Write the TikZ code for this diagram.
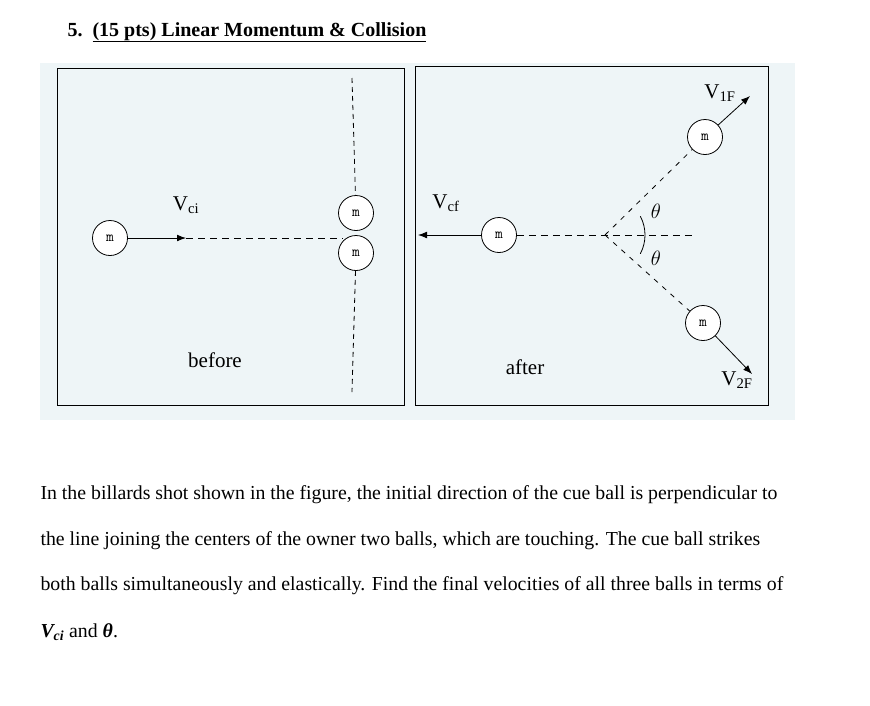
\documentclass[tikz,border=0pt]{standalone}
\usepackage{fontspec}
\setmainfont{Liberation Serif}
\usetikzlibrary{arrows.meta}
\definecolor{paper}{RGB}{238,245,247}
\tikzset{
  ball/.style = {shape = circle, minimum size = 35pt, inner sep = 0pt, draw, thick, fill = white, font = \fontsize{15}{15}\selectfont\ttfamily},
  frame/.style = {draw, thick},
  guide/.style = {dashed, thick, dash pattern = on 7pt off 5pt},
  vel/.style = {thick, -{Latex[length=9pt]}},
  lbl/.style = {font = \fontsize{21}{21}\selectfont},
  body/.style = {anchor = base west, font = \fontsize{19.8}{20}\selectfont}
}
\begin{document}
\begin{tikzpicture}[x = 1pt, y = -1pt]
\useasboundingbox (0,0) rectangle (870,705);
% title
\node[anchor = base west, font = \fontsize{20}{20}\selectfont\bfseries] (title) at (64,36)
  {5.\ \ \underline{(15 pts) Linear Momentum \& Collision}};
\fill[paper] (40,63) rectangle (795,420);
% before
\draw[frame] (57,68) rectangle (404,405);
\node[ball] (c0) at (110,238) {m};
\node[ball] (b1) at (356,213) {m};
\node[ball] (b2) at (356,253) {m};
\coordinate (tip0) at (186,238);
\coordinate (top0) at (352,78);
\coordinate (bot0) at (352,392);
\draw[vel] (c0) -- (tip0);
\draw[guide] (tip0) -- (b1.south west |- tip0);
\draw[guide, dash pattern = on 5pt off 4pt] (top0) -- (b1);
\draw[guide, dash pattern = on 5pt off 4pt] (b2) -- (bot0);
\node[lbl] (vci) at (186,205) {V\textsubscript{ci}};
\node[lbl] (before) at (215,360) {before};
% after
\draw[frame] (415,66) rectangle (768,405);
\node[ball] (c1) at (499,235) {m};
\node[ball] (a1) at (705,137) {m};
\node[ball] (a2) at (703,323) {m};
\coordinate (vx) at (605,235);
\coordinate (end1) at (695,235);
\coordinate (tipc) at (418,235);
\coordinate (tip1) at (750,96);
\coordinate (tip2) at (752,374);
\draw[vel] (c1) -- (tipc);
\draw[guide] (c1) -- (end1);
\draw[guide, dash pattern = on 5pt off 6pt] (vx) -- (a1);
\draw[guide, dash pattern = on 5pt off 6pt] (vx) -- (a2);
\draw[thick] ([shift={(-28:40)}]vx) arc[start angle = -28, end angle = 28, radius = 40];
\draw[vel] (a1) -- (tip1);
\draw[vel] (a2) -- (tip2);
\node[lbl] (vcf) at (446,203) {V\textsubscript{cf}};
\node[lbl] (v1f) at (720,93) {V\textsubscript{1F}};
\node[lbl] (v2f) at (737,380) {V\textsubscript{2F}};
\node[lbl] (th1) at (656,211) {$\theta$};
\node[lbl] (th2) at (656,258) {$\theta$};
\node[lbl] (after) at (525,367) {after};
% text
\node[body] (l1) at (37,499) {In the billards shot shown in the figure, the initial direction of the cue ball is perpendicular to};
\node[body] (l2) at (37,545) {the line joining the centers of the owner two balls, which are touching. The cue ball strikes};
\node[body] (l3) at (37,590) {both balls simultaneously and elastically. Find the final velocities of all three balls in terms of};
\node[body] (l4) at (37,637) {\textbf{\textit{V\textsubscript{ci}}} and \textbf{\textit{θ}}.};
\end{tikzpicture}
\end{document}
